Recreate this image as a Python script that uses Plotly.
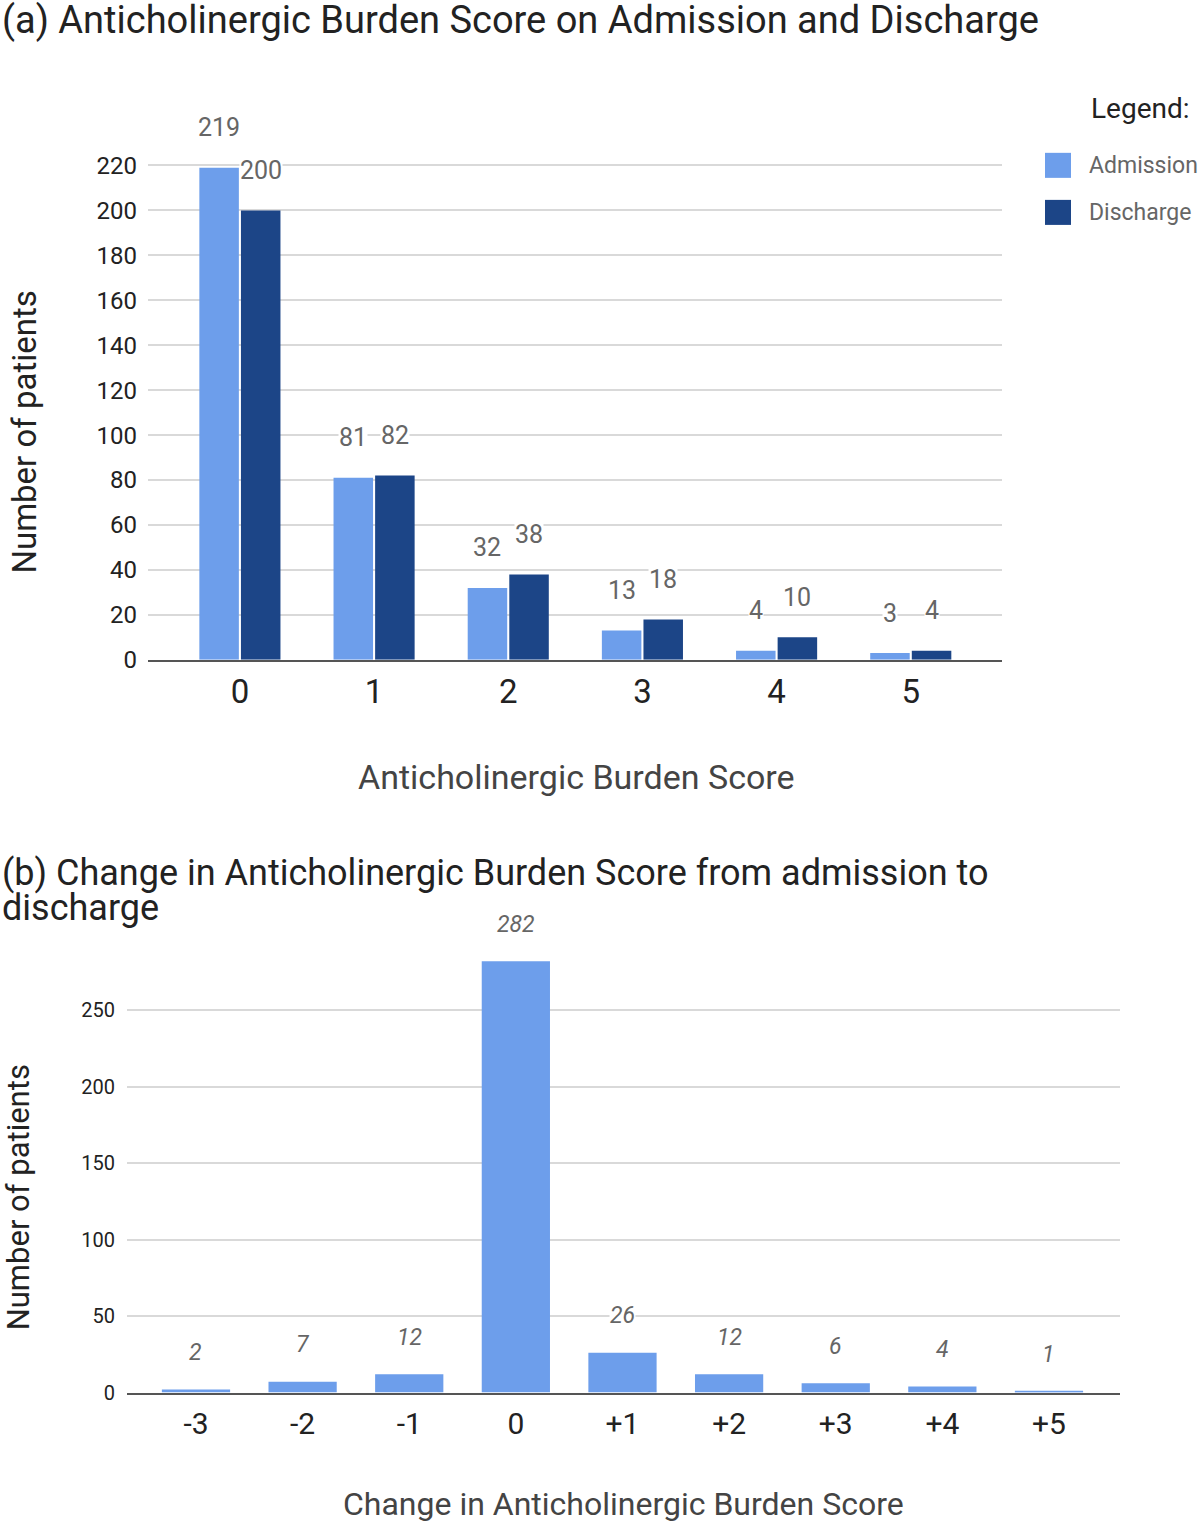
import plotly.graph_objects as go

# (a) burden score on admission / discharge
scores = ["0", "1", "2", "3", "4", "5"]
admission = [219, 81, 32, 13, 4, 3]
discharge = [200, 82, 38, 18, 10, 4]

# (b) change from admission to discharge
changes = ["-3", "-2", "-1", "0", "+1", "+2", "+3", "+4", "+5"]
change_counts = [2, 7, 12, 282, 26, 12, 6, 4, 1]

W, H = 1200, 1525
FONT = "Roboto"
LIGHT = "#6d9eeb"
DARK = "#1c4587"
BARGAP, GROUPGAP = 0.38, 0.05

# the capture squeezes the page a little vertically; undo that here
Y0, YS = 12.8, 0.982


def px(x):
    return x / W


def py(y):
    return 1 - ((y - Y0) / YS) / H


fig = go.Figure()
fig.add_trace(go.Bar(x=scores, y=admission, name="Admission", marker_color=LIGHT,
                     marker_line_width=0, xaxis="x", yaxis="y", showlegend=False))
fig.add_trace(go.Bar(x=scores, y=discharge, name="Discharge", marker_color=DARK,
                     marker_line_width=0, xaxis="x", yaxis="y", showlegend=False))
fig.add_trace(go.Bar(x=changes, y=change_counts, name="Change", marker_color=LIGHT,
                     marker_line_width=0, width=0.64, xaxis="x2", yaxis="y2",
                     showlegend=False))

annots = []
# value labels, panel (a): offset of each bar inside its group
off = (1 - BARGAP) / 4
for i, (a, d) in enumerate(zip(admission, discharge)):
    for dx, v in ((-off, a), (off, d)):
        annots.append(dict(x=i + dx, y=v, xref="x", yref="y", text=str(v),
                           showarrow=False, yanchor="middle", yshift=40,
                           bgcolor="white", borderpad=0,
                           font=dict(family=FONT, size=25, color="#666")))
# value labels, panel (b)
for i, v in enumerate(change_counts):
    annots.append(dict(x=i, y=v, xref="x2", yref="y2", text=f"<i>{v}</i>",
                       showarrow=False, yanchor="middle", yshift=37,
                       bgcolor="white", borderpad=0,
                       font=dict(family=FONT, size=23, color="#666")))


def label(text, x, y, size, color="#222", xanchor="center", angle=0):
    annots.append(dict(text=text, x=px(x), y=py(y), xref="paper", yref="paper",
                       xanchor=xanchor, yanchor="middle", showarrow=False,
                       textangle=angle, font=dict(family=FONT, size=size, color=color)))


label("(a) Anticholinergic Burden Score on Admission and Discharge", 0, 21, 38, xanchor="left")
label("Number of patients", 25, 433, 33, angle=-90)
label("Anticholinergic Burden Score", 576, 777, 34, color="#444")

label("(b) Change in Anticholinergic Burden Score from admission to", 0, 873, 36, xanchor="left")
label("discharge", 0, 908, 36, xanchor="left")
label("Number of patients", 18, 1197, 31, angle=-90)
label("Change in Anticholinergic Burden Score", 623, 1503, 32, color="#444")

# legend for panel (a)
label("Legend:", 1089, 109, 28, xanchor="left")
shapes = []
for (name, col), yc in zip((("Admission", LIGHT), ("Discharge", DARK)), (166, 213)):
    shapes.append(dict(type="rect", xref="paper", yref="paper",
                       x0=px(1045), x1=px(1071), y0=py(yc + 12.5), y1=py(yc - 12.5),
                       fillcolor=col, line=dict(width=0)))
    label(name, 1087, yc, 23, color="#666", xanchor="left")

# panel (b) plot top sits where 285 would be
b_top = 1392 - 285 * (1392 - 1010) / 250

axis_common = dict(showgrid=False, zeroline=False, ticks="", type="category",
                   showline=True, linecolor="#555", linewidth=2)

fig.update_layout(
    width=W, height=H,
    margin=dict(l=0, r=0, t=0, b=0),
    paper_bgcolor="white", plot_bgcolor="white",
    barmode="group", bargap=BARGAP, bargroupgap=GROUPGAP,
    font=dict(family=FONT, color="#222"),
    xaxis=dict(domain=[px(148), px(1002)], anchor="y", range=[-0.685, 5.68],
               tickfont=dict(size=33, color="#222"), ticklabelstandoff=2,
               **axis_common),
    yaxis=dict(domain=[py(660), py(165)], anchor="x", range=[0, 220.5], dtick=20,
               gridcolor="#d9d9d9", gridwidth=2, zeroline=False, ticks="",
               tickfont=dict(size=24, color="#222"), ticklabelstandoff=10),
    xaxis2=dict(domain=[px(127), px(1120)], anchor="y2", range=[-0.647, 8.666],
                tickfont=dict(size=30, color="#222"), ticklabelstandoff=3,
                **axis_common),
    yaxis2=dict(domain=[py(1392), py(b_top)], anchor="x2", range=[0, 285], dtick=50,
                gridcolor="#d9d9d9", gridwidth=2, zeroline=False, ticks="",
                tickfont=dict(size=20, color="#222"), ticklabelstandoff=11),
    annotations=annots,
    shapes=shapes,
)

fig.write_html("out.html", config={"displayModeBar": False},
               post_script="document.body.style.margin='0';")
